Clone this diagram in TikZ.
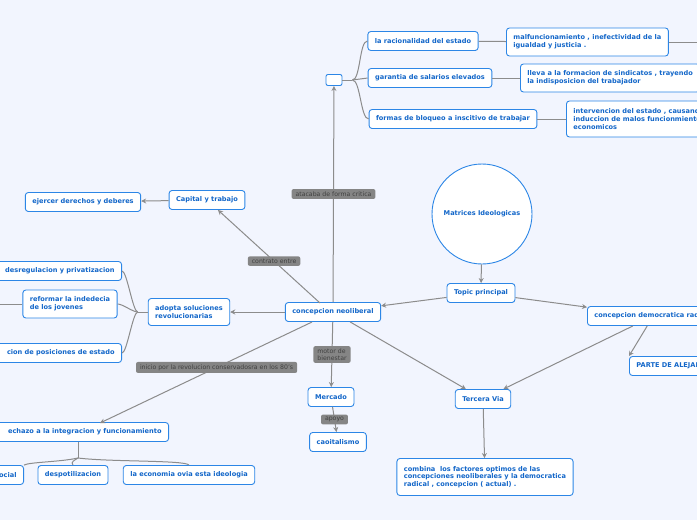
\documentclass[tikz,border=0pt]{standalone}
\usepackage{fontspec}
\setmainfont{DejaVu Sans}
\usetikzlibrary{arrows.meta}
\definecolor{bg}{HTML}{F2F5FE}
\definecolor{bd}{HTML}{2C86E6}
\definecolor{tx}{HTML}{1266C9}
\definecolor{ln}{HTML}{8C8C8C}
\definecolor{lb}{HTML}{858585}
\begin{document}
\begin{tikzpicture}[x=1pt,y=-1pt,
  box/.style={draw=bd,line width=0.9pt,fill=white,rounded corners=3pt,text=tx,font=\fontsize{6.6}{7.8}\selectfont\bfseries,inner xsep=7pt,inner ysep=0pt,minimum height=19pt,align=left},
  lab/.style={fill=lb,rounded corners=2pt,text=black!75,font=\fontsize{6.2}{7}\selectfont,inner xsep=4pt,inner ysep=2.5pt,align=left},
  ed/.style={draw=ln,line width=1pt},
  ar/.style={ed,-{Stealth[length=5pt,width=5pt]}}]
\useasboundingbox (0,0) rectangle (697,520);
\fill[bg] (0,0) rectangle (697,520);
\begin{scope}
\clip (0,0) rectangle (697,520);
% nodes
\node[circle,draw=bd,line width=0.9pt,fill=white,minimum size=100pt,text=tx,font=\fontsize{6.6}{7.8}\selectfont\bfseries] (mi) at (482,214) {Matrices Ideologicas};
\node[box] (tp) at (481,293) {Topic principal};
\node[box] (cn) at (333,312) {concepcion neoliberal};
\node[box,anchor=west] (cd) at (587,316) {concepcion democratica radical};
\node[box,anchor=west] (pa) at (629,366) {PARTE DE ALEJANDRO};
\node[box] (tv) at (483,399) {Tercera Via};
\node[box,minimum height=37pt] (cb) at (485,477) {combina\ \ los factores optimos de las\\concepciones neoliberales y la democratica\\radical , concepcion ( actual) .};
\node[box] (me) at (331,397) {Mercado};
\node[box] (ca) at (338,442) {caoitalismo};
\node[box] (ct) at (207,200) {Capital y trabajo};
\node[box] (ej) at (83,202) {ejercer derechos y deberes};
\node[box,minimum height=27pt] (ad) at (189,312) {adopta soluciones\\revolucionarias};
\node[box,anchor=east] (de) at (122,271) {\hspace*{10pt}desregulacion y privatizacion};
\node[box,minimum height=28pt] (rf) at (70,304) {reformar la indedecia\\de los jovenes};
\node[box,anchor=east] (po) at (122,353) {\hspace*{10pt}cion de posiciones de estado};
\node[box,anchor=east] (re) at (169,432) {\hspace*{10pt}echazo a la integracion y funcionamiento};
\node[box,anchor=east] (so) at (24,475) {\hspace*{10pt}ocial};
\node[box] (dp) at (73,475) {despotilizacion};
\node[box] (ec) at (189,475) {la economia ovia esta ideologia};
\node[draw=bd,line width=0.9pt,fill=white,rounded corners=2pt,minimum width=16pt,minimum height=11pt,inner sep=0pt] (sb) at (334,80) {};
\node[box] (ra) at (423,41) {la racionalidad del estado};
\node[box] (ga) at (430,78) {garantia de salarios elevados};
\node[box] (fo) at (453,119) {formas de bloqueo a inscitivo de trabajar};
\node[box,minimum height=28pt,anchor=west] (ma) at (506,42) {malfuncionamiento , inefectividad de la\\igualdad y justicia .};
\node[box,minimum height=28pt,anchor=west] (ll) at (520,78) {lleva a la formacion de sindicatos , trayendo\\la indisposicion del trabajador};
\node[box,minimum height=36pt,anchor=west] (in) at (566,119) {intervencion del estado , causando la\\induccion de malos funcionmientos\\economicos};
\coordinate (cnl) at (320,303);
\coordinate (cnb) at (312,322);
\coordinate (ret) at (100,423);
\coordinate (j3) at (78,458);
% edges
\draw[ar] (mi) -- (tp);
\draw[ar] (tp) -- (cn);
\draw[ar] (tp) -- (cd);
\draw[ar] (cd) -- (pa.north west);
\draw[ar] (cd) -- (tv);
\draw[ar] (cn) -- (tv);
\draw[ar] (tv) -- (cb);
\draw[ar] (cn) -- (sb) node[lab,pos=0.5] {atacaba de forma critica};
\draw[ar] (cnl) -- (ct) node[lab,pos=0.45] {contrato entre};
\draw[ar] (ct) -- (ej);
\draw[ar] (cn) -- (ad);
\draw[ar] (cnb) -- (ret) node[lab,pos=0.45] {inicio por la revolucion conservadosra en los 80's};
\draw[ar] (cn) -- (me) node[lab,pos=0.5] {motor de\\bienestar};
\draw[ar] (me) -- (ca) node[lab,pos=0.5] {apoyo};
\draw[ed] (ad.west) -- ++(-10,0) coordinate (j1);
\draw[ed] (j1) .. controls ++(-5,0) and ++(5,0) .. (de.east);
\draw[ed] (j1) .. controls ++(-5,0) and ++(5,0) .. (rf.east);
\draw[ed] (j1) .. controls ++(-5,0) and ++(5,0) .. (po.east);
\draw[ed] (rf.west) -- ++(-25,0);
\draw[ed] (78,442) -- (j3);
\draw[ed] (j3) .. controls (60,462) and (30,462) .. (so.north east);
\draw[ed] (j3) .. controls (75,460) and (70,462) .. (dp.north);
\draw[ed] (j3) .. controls (110,462) and (185,460) .. (ec.north);
\draw[ed] (sb.east) -- ++(10,0) coordinate (j4);
\draw[ed] (j4) .. controls ++(8,0) and ++(-8,0) .. (ra.west);
\draw[ed] (j4) -- (ga.west);
\draw[ed] (j4) .. controls ++(8,0) and ++(-8,0) .. (fo.west);
\draw[ed] (ra) -- (ma);
\draw[ed] (ga) -- (ll);
\draw[ed] (fo) -- (in);
\draw[ed] (ma.east) -- ++(30,0);
\end{scope}
\end{tikzpicture}
\end{document}
